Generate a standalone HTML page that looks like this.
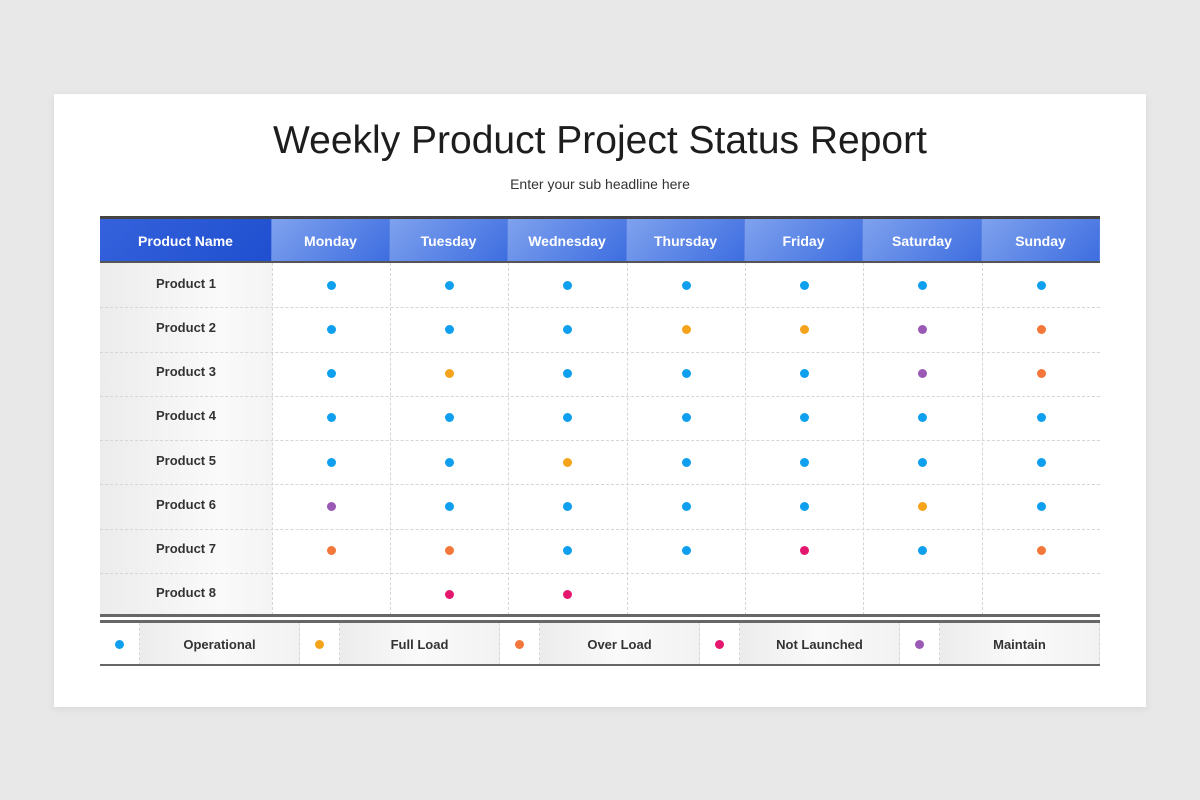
<!DOCTYPE html>
<html><head><meta charset="utf-8">
<style>
*{margin:0;padding:0;box-sizing:border-box}
body{width:1200px;height:800px;background:#e9e8e9;position:relative;font-family:"Liberation Sans",sans-serif;overflow:hidden}
.card{position:absolute;left:54px;top:94px;width:1092px;height:613px;background:#fff;box-shadow:0 2px 8px rgba(0,0,0,0.08)}
.title{position:absolute;left:0;width:1200px;top:119px;text-align:center;font-size:39px;color:#1d1d1d}
.sub{position:absolute;left:0;width:1200px;top:176px;text-align:center;font-size:14px;color:#333}
.c{position:absolute;display:flex;align-items:center;justify-content:center}
.h{color:#fff;font-weight:bold;font-size:14px;top:219px;height:43px;background:linear-gradient(135deg,#7fa2ee,#3d6de0);border-right:1px solid #5a82e4}
.hf{background:linear-gradient(135deg,#3562dc,#1f4fcf)}
.name{font-weight:bold;font-size:13px;color:#333;background:linear-gradient(90deg,#ececec,#fafafa 70%,#f4f4f4)}
.d{width:9px;height:9px;border-radius:50%}
.ln{position:absolute;background:#555}
.vl{position:absolute;border-left:1px dashed #d6d6d6}
.hl{position:absolute;border-top:1px dashed #d6d6d6;left:100px;width:1000px}
.lg{font-weight:bold;font-size:13px;color:#333;background:linear-gradient(90deg,#ececec,#fafafa 50%,#f2f2f2)}
</style></head><body>
<div class="card"></div>
<div class="title">Weekly Product Project Status Report</div>
<div class="sub">Enter your sub headline here</div>
<div id="t"></div>
<script>
var B='#0e9fee',O='#f5a31b',R='#f3773a',P='#e5166d',V='#9b59b6';
var data=[[B,B,B,B,B,B,B],[B,B,B,O,O,V,R],[B,O,B,B,B,V,R],[B,B,B,B,B,B,B],[B,B,O,B,B,B,B],[V,B,B,B,B,O,B],[R,R,B,B,P,B,R],[null,P,P,null,null,null,null]];
var days=['Monday','Tuesday','Wednesday','Thursday','Friday','Saturday','Sunday'];
var xs=[100,272,390,508,627,745,863,982,1100];
var h='';
h+='<div class="ln" style="left:100px;top:216px;width:1000px;height:3px;background:#444"></div>';
h+='<div class="c h hf" style="left:100px;width:172px">Product Name</div>';
for(var i=0;i<7;i++)h+='<div class="c h" style="left:'+xs[i+1]+'px;width:'+(xs[i+2]-xs[i+1])+'px">'+days[i]+'</div>';
h+='<div class="ln" style="left:100px;top:261px;width:1000px;height:2px;background:#555"></div>';
var rh=44.25,y0=263;
for(var r=0;r<8;r++){var y=y0+r*rh;
h+='<div class="c name" style="left:100px;top:'+y+'px;width:172px;height:'+rh+'px;padding-bottom:4px">Product '+(r+1)+'</div>';
if(r>0)h+='<div class="hl" style="top:'+y+'px"></div>';
for(var c=0;c<7;c++){if(data[r][c])h+='<div class="c" style="left:'+xs[c+1]+'px;top:'+y+'px;width:'+(xs[c+2]-xs[c+1])+'px;height:'+rh+'px"><div class="d" style="background:'+data[r][c]+'"></div></div>';}}
for(var i=1;i<8;i++)h+='<div class="vl" style="left:'+xs[i]+'px;top:263px;height:352px"></div>';
h+='<div class="ln" style="left:100px;top:614px;width:1000px;height:3px;background:#666"></div>';
h+='<div class="ln" style="left:100px;top:620px;width:1000px;height:3px;background:#666"></div>';
var lg=[[B,'Operational'],[O,'Full Load'],[R,'Over Load'],[P,'Not Launched'],[V,'Maintain']];
for(var i=0;i<5;i++){var x=100+i*200;
h+='<div class="c" style="left:'+x+'px;top:623px;width:40px;height:42px;background:#fff;border-right:1px dashed #d6d6d6"><div class="d" style="background:'+lg[i][0]+'"></div></div>';
h+='<div class="c lg" style="left:'+(x+40)+'px;top:623px;width:160px;height:42px;border-right:1px dashed #d6d6d6">'+lg[i][1]+'</div>';}
h+='<div class="ln" style="left:100px;top:664px;width:1000px;height:2px;background:#666"></div>';
document.getElementById('t').innerHTML=h;
</script>
</body></html>
